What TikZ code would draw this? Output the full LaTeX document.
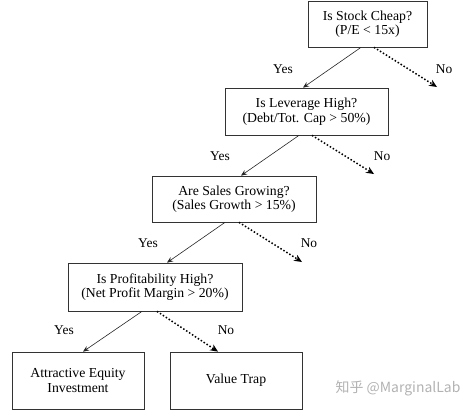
\documentclass[tikz,border=0pt]{standalone}
\usepackage{fontspec}
\setmainfont{Liberation Serif}
\newfontfamily\cjk{Noto Sans CJK SC}
\usetikzlibrary{arrows.meta}
\begin{document}
\begin{tikzpicture}[x=1bp,y=-1bp,
  box/.style={draw=black!80,line width=0.7bp,rectangle,align=center,inner sep=0pt,font=\fontsize{13.8}{14.5}\selectfont},
  yesarrow/.style={draw=black!85,line width=0.6bp,-{Stealth[length=6bp,width=5bp]}},
  noarrow/.style={draw=black,line width=1.5bp,dotted,-{Stealth[length=8bp,width=7bp,line width=0pt]}},
  lbl/.style={font=\fontsize{13.5}{14}\selectfont,inner sep=0pt}]
\useasboundingbox (0,0) rectangle (474,417);
\node[box,minimum width=119bp,minimum height=46bp] (b1) at (367.5,24) {Is Stock Cheap?\\(P/E < 15x)};
\node[box,minimum width=163bp,minimum height=47bp] (b2) at (306.5,111.5) {Is Leverage High?\\(Debt/Tot. Cap > 50\%)};
\node[box,minimum width=164bp,minimum height=46bp] (b3) at (234,199) {Are Sales Growing?\\(Sales Growth > 15\%)};
\node[box,minimum width=174bp,minimum height=48bp] (b4) at (155,287) {Is Profitability High?\\(Net Profit Margin > 20\%)};
\node[box,minimum width=132bp,minimum height=57bp] (b5) at (78,380.5) {Attractive Equity\\Investment};
\node[box,minimum width=132bp,minimum height=57bp] (b6) at (236,380.5) {Value Trap};
\coordinate (n1) at (437,87);
\coordinate (n2) at (374,174);
\coordinate (n3) at (302,262);
\draw[yesarrow] ([xshift=-6.5bp]b1.south) -- ([xshift=-3.5bp]b2.north);
\draw[noarrow] ([xshift=6.5bp]b1.south) -- (n1);
\draw[yesarrow] ([xshift=-7.5bp]b2.south) -- ([xshift=7bp]b3.north);
\draw[noarrow] ([xshift=5.5bp]b2.south) -- (n2);
\draw[yesarrow] ([xshift=-9bp]b3.south) -- ([xshift=12bp]b4.north);
\draw[noarrow] ([xshift=5bp]b3.south) -- (n3);
\draw[yesarrow] ([xshift=-13bp]b4.south) -- ([xshift=5bp]b5.north);
\draw[noarrow] ([xshift=2bp]b4.south) -- ([xshift=-18bp]b6.north);
\node[lbl] (y1) at (283,69) {Yes};
\node[lbl] (o1) at (444,69) {No};
\node[lbl] (y2) at (220,156) {Yes};
\node[lbl] (o2) at (382,156) {No};
\node[lbl] (y3) at (148,243) {Yes};
\node[lbl] (o3) at (309,243) {No};
\node[lbl] (y4) at (64,330) {Yes};
\node[lbl] (o4) at (226,330) {No};
\node[font=\cjk\fontsize{14}{16}\selectfont,text=black!30,inner sep=0pt] (wm) at (398,388) {知乎 @MarginalLab};
\end{tikzpicture}
\end{document}
